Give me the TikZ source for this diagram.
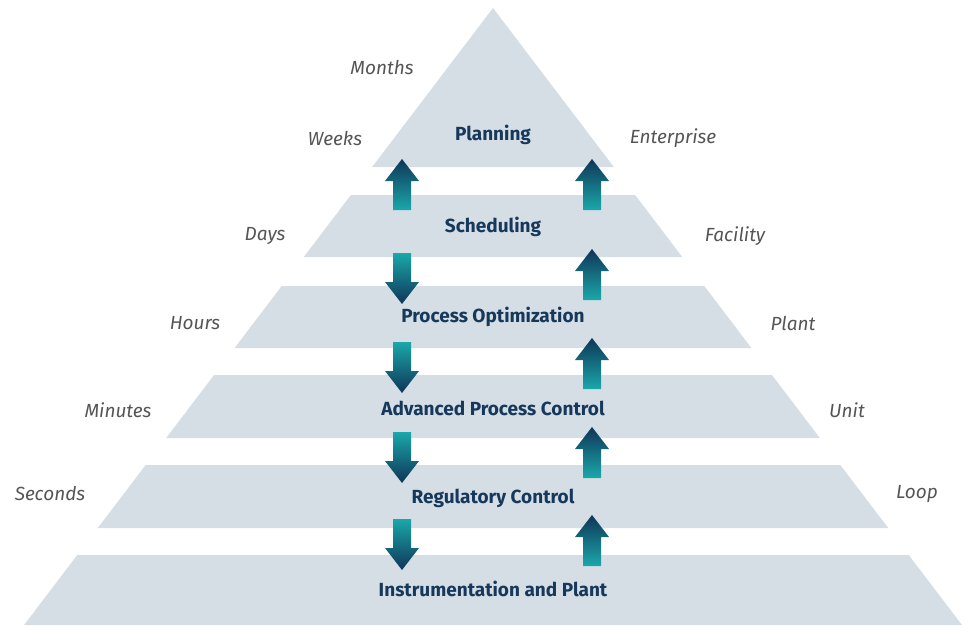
\documentclass[tikz,border=0pt]{standalone}
\usepackage{fontspec}
\setmainfont{Fira Sans}
\begin{document}
\definecolor{lay}{HTML}{D5DEE5}
\definecolor{navy}{HTML}{16385A}
\definecolor{dk}{HTML}{0F3557}
\definecolor{tl}{HTML}{1AA8AA}
\definecolor{gr}{HTML}{555555}
\begin{tikzpicture}[x=1pt,y=-1pt,
  layer/.style={fill=lay,draw=none},
  title/.style={font=\fontsize{19}{23}\selectfont\bfseries,text=navy},
  lab/.style={font=\fontsize{19}{23}\selectfont\itshape,text=gr}]
\useasboundingbox (0,0) rectangle (980,634);
\def\s{0.76}
\newcommand\trap[2]{\fill[lay] ({493-\s*(#1-8)},#1) -- ({493+\s*(#1-8)},#1) -- ({493+\s*(#2-8)},#2) -- ({493-\s*(#2-8)},#2) -- cycle;}
\fill[lay] (493,8) -- ({493+\s*159},167) -- ({493-\s*159},167) -- cycle;
\trap{195}{257}
\trap{286}{348}
\trap{375}{438}
\trap{465}{528}
\trap{555}{625}
\newcommand\myup[3]{\shade[top color=dk,bottom color=tl] (#1-9,#3) -- (#1-9,#2+22) -- (#1-17,#2+22) -- (#1,#2) -- (#1+17,#2+22) -- (#1+9,#2+22) -- (#1+9,#3) -- cycle;}
\newcommand\mydown[3]{\shade[top color=tl,bottom color=dk] (#1-9,#2) -- (#1-9,#3-22) -- (#1-17,#3-22) -- (#1,#3) -- (#1+17,#3-22) -- (#1+9,#3-22) -- (#1+9,#2) -- cycle;}
\myup{402}{159}{210}
\myup{592}{159}{210}
\mydown{402}{253}{304}
\myup{592}{249}{300}
\mydown{402}{342}{393}
\myup{592}{338}{389}
\mydown{402}{432}{483}
\myup{592}{427}{478}
\mydown{402}{519}{570}
\myup{592}{515}{566}
\node[title] (t1) at (493,135) {Planning};
\node[title] (t2) at (493,227) {Scheduling};
\node[title] (t3) at (493,317) {Process Optimization};
\node[title] (t4) at (493,408) {Advanced Process Control};
\node[title] (t5) at (493,498) {Regulatory Control};
\node[title] (t6) at (493,589) {Instrumentation and Plant};
\node[lab] (l1) at (382,68) {Months};
\node[lab] (l2) at (335,138) {Weeks};
\node[lab] (r2) at (673,138) {Enterprise};
\node[lab] (l3) at (265,236) {Days};
\node[lab] (r3) at (735,236) {Facility};
\node[lab] (l4) at (195,323) {Hours};
\node[lab] (r4) at (793,323) {Plant};
\node[lab] (l5) at (118,410) {Minutes};
\node[lab] (r5) at (847,410) {Unit};
\node[lab] (l6) at (50,494) {Seconds};
\node[lab] (r6) at (917,494) {Loop};
\end{tikzpicture}
\end{document}
